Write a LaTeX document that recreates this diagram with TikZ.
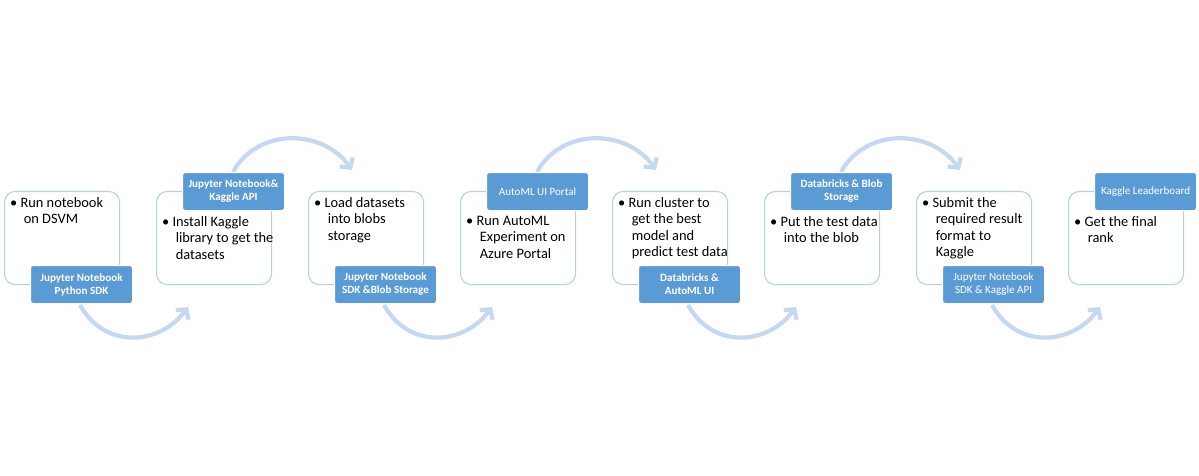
\documentclass[tikz,border=0pt]{standalone}
\usepackage{fontspec}
\setmainfont{Carlito}
\usetikzlibrary{arrows.meta}
\definecolor{tagc}{HTML}{5B9BD5}
\definecolor{edge}{HTML}{B4CFEA}
\definecolor{arc}{HTML}{C5D8F0}
\newcommand{\ind}{\hspace*{0.95em}}
\begin{document}
\begin{tikzpicture}[x=0.02cm,y=-0.02cm,
 card/.style={draw=edge,line width=0.6pt,rounded corners=6pt,fill=white,minimum width=115*0.02cm,minimum height=93*0.02cm,anchor=north west},
 txt/.style={anchor=north west,font=\fontsize{8.2}{9.4}\selectfont,align=left,inner sep=1pt},
 tag/.style={fill=tagc,draw=white,line width=0.6pt,rounded corners=1.5pt,minimum width=102*0.02cm,minimum height=38*0.02cm,text=white,font=\fontsize{6.3}{7.4}\selectfont,align=center,anchor=north west,inner sep=1pt},
 flow/.style={arc,line width=2.4pt,-{Straight Barb[length=4pt,width=9pt]}}]
\useasboundingbox (0,0) rectangle (1199,476);
\foreach \i in {0,...,7}{
  \node[card] (c\i) at (4+152*\i,191) {};
}
\node[txt] (t0) at (8,195) {\textbullet\ Run notebook\\\ind on DSVM};
\node[txt] (t1) at (160,214) {\textbullet\ Install Kaggle\\\ind library to get the\\\ind datasets};
\node[txt] (t2) at (312,195) {\textbullet\ Load datasets\\\ind into blobs\\\ind storage};
\node[txt] (t3) at (464,214) {\textbullet\ Run AutoML\\\ind Experiment on\\\ind Azure Portal};
\node[txt] (t4) at (616,195) {\textbullet\ Run cluster to\\\ind get the best\\\ind model and\\\ind predict test data};
\node[txt] (t5) at (768,214) {\textbullet\ Put the test data\\\ind into the blob};
\node[txt] (t6) at (920,195) {\textbullet\ Submit the\\\ind required result\\\ind format to\\\ind Kaggle};
\node[txt] (t7) at (1072,214) {\textbullet\ Get the final\\\ind rank};
\foreach \i in {0,2,4,6}{
  \coordinate (bs\i) at (80+152*\i,305);
  \coordinate (be\i) at (188+152*\i,307);
  \draw[flow] (bs\i) .. controls (105+152*\i,350) and (160+152*\i,345) .. (be\i);
}
\foreach \i in {1,3,5}{
  \coordinate (ts\i) at (81+152*\i,172);
  \coordinate (te\i) at (200+152*\i,170);
  \draw[flow] (ts\i) .. controls (105+152*\i,128) and (170+152*\i,128) .. (te\i);
}
\node[tag] (g0) at (30,265) {\bfseries Jupyter Notebook\\\bfseries Python SDK};
\node[tag] (g1) at (182,172) {\bfseries Jupyter Notebook\&\\\bfseries Kaggle API};
\node[tag] (g2) at (334,265) {\bfseries Jupyter Notebook\\\bfseries SDK \&Blob Storage};
\node[tag] (g3) at (486,172) {AutoML UI Portal};
\node[tag] (g4) at (638,265) {\bfseries Databricks \&\\\bfseries AutoML UI};
\node[tag] (g5) at (790,172) {\bfseries Databricks \& Blob\\\bfseries Storage};
\node[tag] (g6) at (942,265) {Jupyter Notebook\\SDK \& Kaggle API};
\node[tag] (g7) at (1094,172) {Kaggle Leaderboard};
\end{tikzpicture}
\end{document}
